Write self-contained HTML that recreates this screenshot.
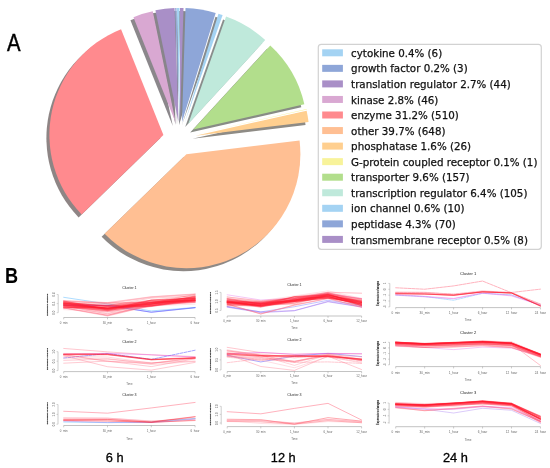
<!DOCTYPE html>
<html><head><meta charset="utf-8"><title>Figure</title>
<style>
html,body{margin:0;padding:0;background:#fff;}
body{width:550px;height:468px;overflow:hidden;position:relative;}
svg{position:absolute;left:0;top:0;}
.lbl{position:absolute;font-family:"Liberation Sans",Arial,sans-serif;color:#000;line-height:1;white-space:nowrap;}
</style></head><body>
<svg width="550" height="468" viewBox="0 0 550 468">
<g transform="translate(-3.00 3.00)">
<path d="M179.50 121.90L179.50 7.90A114.00 114.00 0 0 0 176.87 7.93Z" fill="#878b8d"/>
<path d="M179.10 121.90L176.47 7.93A114.00 114.00 0 0 0 175.16 7.97Z" fill="#85878b"/>
<path d="M178.50 122.00L174.56 8.07A114.00 114.00 0 0 0 155.43 10.36Z" fill="#88858a"/>
<path d="M175.80 123.00L152.73 11.36A114.00 114.00 0 0 0 133.44 17.16Z" fill="#8b878b"/>
<path d="M163.40 135.00L121.04 29.16A114.00 114.00 0 0 0 81.64 214.44Z" fill="#8e8585"/>
<path d="M186.40 154.20L104.64 233.64A114.00 114.00 0 0 0 299.56 140.43Z" fill="#8e8986"/>
<path d="M195.40 135.70L308.56 121.93A114.00 114.00 0 0 0 306.62 110.70Z" fill="#8e8b85"/>
<path d="M195.60 134.40L306.82 109.40A114.00 114.00 0 0 0 306.73 108.97Z" fill="#8e8d86"/>
<path d="M193.20 129.60L304.33 104.17A114.00 114.00 0 0 0 270.25 45.58Z" fill="#888c85"/>
<path d="M188.20 124.10L265.25 40.08A114.00 114.00 0 0 0 226.04 16.56Z" fill="#898d8c"/>
<path d="M184.80 122.60L222.64 15.06A114.00 114.00 0 0 0 218.48 13.69Z" fill="#878b8d"/>
<path d="M182.00 121.90L215.68 12.99A114.00 114.00 0 0 0 185.51 7.95Z" fill="#85878b"/>
<path d="M180.00 121.90L183.51 7.95A114.00 114.00 0 0 0 180.00 7.90Z" fill="#88858a"/>
</g>
<path d="M179.50 121.90L179.50 7.90A114.00 114.00 0 0 0 176.87 7.93Z" fill="#a4d3f3"/>
<path d="M179.10 121.90L176.47 7.93A114.00 114.00 0 0 0 175.16 7.97Z" fill="#8ea6d8"/>
<path d="M178.50 122.00L174.56 8.07A114.00 114.00 0 0 0 155.43 10.36Z" fill="#a98fc7"/>
<path d="M175.80 123.00L152.73 11.36A114.00 114.00 0 0 0 133.44 17.16Z" fill="#d9a8d2"/>
<path d="M163.40 135.00L121.04 29.16A114.00 114.00 0 0 0 81.64 214.44Z" fill="#ff8a8e"/>
<path d="M186.40 154.20L104.64 233.64A114.00 114.00 0 0 0 299.56 140.43Z" fill="#ffbf93"/>
<path d="M195.40 135.70L308.56 121.93A114.00 114.00 0 0 0 306.62 110.70Z" fill="#ffcf8f"/>
<path d="M195.60 134.40L306.82 109.40A114.00 114.00 0 0 0 306.73 108.97Z" fill="#f8f39a"/>
<path d="M193.20 129.60L304.33 104.17A114.00 114.00 0 0 0 270.25 45.58Z" fill="#b2de8c"/>
<path d="M188.20 124.10L265.25 40.08A114.00 114.00 0 0 0 226.04 16.56Z" fill="#bfe9db"/>
<path d="M184.80 122.60L222.64 15.06A114.00 114.00 0 0 0 218.48 13.69Z" fill="#a4d3f3"/>
<path d="M182.00 121.90L215.68 12.99A114.00 114.00 0 0 0 185.51 7.95Z" fill="#8ea6d8"/>
<path d="M180.00 121.90L183.51 7.95A114.00 114.00 0 0 0 180.00 7.90Z" fill="#a98fc7"/>
<rect x="318.3" y="44.3" width="223" height="205" rx="3" ry="3" fill="#fff" stroke="#d2d2d2" stroke-width="1.2"/>
<rect x="322.2" y="49.30" width="20.7" height="7" fill="#a4d3f3"/>
<rect x="322.2" y="64.85" width="20.7" height="7" fill="#8ea6d8"/>
<rect x="322.2" y="80.40" width="20.7" height="7" fill="#a98fc7"/>
<rect x="322.2" y="95.95" width="20.7" height="7" fill="#d9a8d2"/>
<rect x="322.2" y="111.50" width="20.7" height="7" fill="#ff8a8e"/>
<rect x="322.2" y="127.05" width="20.7" height="7" fill="#ffbf93"/>
<rect x="322.2" y="142.60" width="20.7" height="7" fill="#ffcf8f"/>
<rect x="322.2" y="158.15" width="20.7" height="7" fill="#f8f39a"/>
<rect x="322.2" y="173.70" width="20.7" height="7" fill="#b2de8c"/>
<rect x="322.2" y="189.25" width="20.7" height="7" fill="#bfe9db"/>
<rect x="322.2" y="204.80" width="20.7" height="7" fill="#a4d3f3"/>
<rect x="322.2" y="220.35" width="20.7" height="7" fill="#8ea6d8"/>
<rect x="322.2" y="235.90" width="20.7" height="7" fill="#a98fc7"/><g font-family="DejaVu Sans, sans-serif" font-size="10.3" fill="#111" stroke="#111" stroke-width="0.25"><text x="351.1" y="56.90">cytokine 0.4% (6)</text>
<text x="351.1" y="72.45">growth factor 0.2% (3)</text>
<text x="351.1" y="88.00">translation regulator 2.7% (44)</text>
<text x="351.1" y="103.55">kinase 2.8% (46)</text>
<text x="351.1" y="119.10">enzyme 31.2% (510)</text>
<text x="351.1" y="134.65">other 39.7% (648)</text>
<text x="351.1" y="150.20">phosphatase 1.6% (26)</text>
<text x="351.1" y="165.75">G-protein coupled receptor 0.1% (1)</text>
<text x="351.1" y="181.30">transporter 9.6% (157)</text>
<text x="351.1" y="196.85">transcription regulator 6.4% (105)</text>
<text x="351.1" y="212.40">ion channel 0.6% (10)</text>
<text x="351.1" y="227.95">peptidase 4.3% (70)</text>
<text x="351.1" y="243.50">transmembrane receptor 0.5% (8)</text></g>
<g fill="none" stroke-linejoin="round" stroke-linecap="round"><polyline points="63.7,297.32 107.5,303.93 151.3,310.92 195.1,307.44" stroke="#7cc8ff" stroke-opacity="0.9" stroke-width="0.7"/>
<polyline points="63.7,305.16 107.5,305.52 151.3,312.14 195.1,307.59" stroke="#5b5bff" stroke-opacity="0.8" stroke-width="0.6"/>
<polyline points="63.7,305.16 107.5,305.29 151.3,312.29 195.1,307.82" stroke="#5b5bff" stroke-opacity="0.8" stroke-width="0.6"/>
<polyline points="63.7,300.7 107.5,302.68 151.3,296.95 195.1,294.09" stroke="#ff9aa8" stroke-opacity="0.6" stroke-width="0.6"/>
<polyline points="63.7,301.13 107.5,303.31 151.3,296.94 195.1,294.25" stroke="#ff9aa8" stroke-opacity="0.6" stroke-width="0.6"/>
<polyline points="63.7,300.98 107.5,303.74 151.3,297.37 195.1,294.57" stroke="#ff9aa8" stroke-opacity="0.6" stroke-width="0.6"/>
<polyline points="63.7,300.47 107.5,302.59 151.3,296.67 195.1,293.9" stroke="#ff9aa8" stroke-opacity="0.6" stroke-width="0.6"/>
<polyline points="63.7,307.98 107.5,315.31 151.3,304.95 195.1,302.51" stroke="#ff6b80" stroke-opacity="0.6" stroke-width="0.6"/>
<polyline points="63.7,307.69 107.5,315.25 151.3,304.14 195.1,301.63" stroke="#ff6b80" stroke-opacity="0.6" stroke-width="0.6"/>
<polyline points="63.7,307.98 107.5,316.02 151.3,305.59 195.1,302.37" stroke="#ff6b80" stroke-opacity="0.6" stroke-width="0.6"/>
<polyline points="63.7,305.84 107.5,307.2 151.3,306.25 195.1,301.61" stroke="#ff6b80" stroke-opacity="0.33" stroke-width="0.6"/>
<polyline points="63.7,309.63 107.5,311.72 151.3,305.38 195.1,298.37" stroke="#ff6b80" stroke-opacity="0.33" stroke-width="0.6"/>
<polyline points="63.7,304.72 107.5,309.58 151.3,302.82 195.1,298.72" stroke="#ff6b80" stroke-opacity="0.33" stroke-width="0.6"/>
<polyline points="63.7,307.88 107.5,304.94 151.3,301.67 195.1,300.02" stroke="#ff6b80" stroke-opacity="0.33" stroke-width="0.6"/>
<polyline points="63.7,308.18 107.5,307.13 151.3,301.31 195.1,301.78" stroke="#ff6b80" stroke-opacity="0.33" stroke-width="0.6"/>
<polyline points="63.7,302.28 107.5,311.48 151.3,305.82 195.1,299.71" stroke="#ff6b80" stroke-opacity="0.33" stroke-width="0.6"/>
<polyline points="63.7,306.71 107.5,313.81 151.3,305.72 195.1,301.14" stroke="#ff6b80" stroke-opacity="0.33" stroke-width="0.6"/>
<polyline points="63.7,302.51 107.5,313.4 151.3,306.5 195.1,301.39" stroke="#ff6b80" stroke-opacity="0.33" stroke-width="0.6"/>
<polyline points="63.7,302.19 107.5,309.99 151.3,300.04 195.1,298.13" stroke="#ff6b80" stroke-opacity="0.33" stroke-width="0.6"/>
<polyline points="63.7,303.54 107.5,314.59 151.3,306.16 195.1,300.52" stroke="#ff6b80" stroke-opacity="0.33" stroke-width="0.6"/>
<polyline points="63.7,307.27 107.5,310.58 151.3,306.66 195.1,299.05" stroke="#ff6b80" stroke-opacity="0.33" stroke-width="0.6"/>
<polyline points="63.7,307.44 107.5,309.66 151.3,302.72 195.1,301.4" stroke="#ff6b80" stroke-opacity="0.33" stroke-width="0.6"/>
<polyline points="63.7,305.91 107.5,308.32 151.3,305.33 195.1,300.87" stroke="#ff6b80" stroke-opacity="0.33" stroke-width="0.6"/>
<polyline points="63.7,308.36 107.5,307.41 151.3,306.4 195.1,297.46" stroke="#ff6b80" stroke-opacity="0.33" stroke-width="0.6"/>
<polyline points="63.7,306.16 107.5,311.77 151.3,305.38 195.1,300.01" stroke="#ff6b80" stroke-opacity="0.33" stroke-width="0.6"/>
<polyline points="63.7,305.98 107.5,311.43 151.3,304.31 195.1,300.62" stroke="#ff6b80" stroke-opacity="0.33" stroke-width="0.6"/>
<polyline points="63.7,306.05 107.5,312.26 151.3,305.86 195.1,304.11" stroke="#ff6b80" stroke-opacity="0.33" stroke-width="0.6"/>
<polyline points="63.7,304.85 107.5,309.48 151.3,304.71 195.1,301.93" stroke="#ff6b80" stroke-opacity="0.33" stroke-width="0.6"/>
<polyline points="63.7,306.04 107.5,313.79 151.3,299.95 195.1,297.69" stroke="#ff6b80" stroke-opacity="0.33" stroke-width="0.6"/>
<polyline points="63.7,306.63 107.5,310.77 151.3,303.95 195.1,301.38" stroke="#ff6b80" stroke-opacity="0.33" stroke-width="0.6"/>
<polyline points="63.7,304.6 107.5,315.71 151.3,305.3 195.1,299.21" stroke="#ff6b80" stroke-opacity="0.33" stroke-width="0.6"/>
<polyline points="63.7,304.9 107.5,309.76 151.3,299.85 195.1,299.04" stroke="#ff6b80" stroke-opacity="0.33" stroke-width="0.6"/>
<polyline points="63.7,303.06 107.5,308.31 151.3,305.24 195.1,300.89" stroke="#ff1a2e" stroke-opacity="0.25" stroke-width="0.8"/>
<polyline points="63.7,302.66 107.5,308.27 151.3,303.69 195.1,300.93" stroke="#ff1a2e" stroke-opacity="0.25" stroke-width="0.8"/>
<polyline points="63.7,300.87 107.5,310.11 151.3,301.71 195.1,300.7" stroke="#ff1a2e" stroke-opacity="0.25" stroke-width="0.8"/>
<polyline points="63.7,303.06 107.5,308.18 151.3,301.58 195.1,297.88" stroke="#ff1a2e" stroke-opacity="0.25" stroke-width="0.8"/>
<polyline points="63.7,304.85 107.5,308.11 151.3,305.93 195.1,301.01" stroke="#ff1a2e" stroke-opacity="0.25" stroke-width="0.8"/>
<polyline points="63.7,307.87 107.5,305.65 151.3,304.13 195.1,298.17" stroke="#ff1a2e" stroke-opacity="0.25" stroke-width="0.8"/>
<polyline points="63.7,305.16 107.5,308.04 151.3,304.06 195.1,296.62" stroke="#ff1a2e" stroke-opacity="0.25" stroke-width="0.8"/>
<polyline points="63.7,303.7 107.5,304.94 151.3,300.25 195.1,295.39" stroke="#ff1a2e" stroke-opacity="0.25" stroke-width="0.8"/>
<polyline points="63.7,306.14 107.5,310.82 151.3,302.62 195.1,299.82" stroke="#ff1a2e" stroke-opacity="0.25" stroke-width="0.8"/>
<polyline points="63.7,304.23 107.5,309.06 151.3,300.75 195.1,300.21" stroke="#ff1a2e" stroke-opacity="0.25" stroke-width="0.8"/>
<polyline points="63.7,304.53 107.5,305.45 151.3,305.9 195.1,299.45" stroke="#ff1a2e" stroke-opacity="0.25" stroke-width="0.8"/>
<polyline points="63.7,304.11 107.5,307.73 151.3,304.75 195.1,296.79" stroke="#ff1a2e" stroke-opacity="0.25" stroke-width="0.8"/>
<polyline points="63.7,307.14 107.5,310.69 151.3,303.64 195.1,298.6" stroke="#ff1a2e" stroke-opacity="0.25" stroke-width="0.8"/>
<polyline points="63.7,304.99 107.5,308.61 151.3,305.95 195.1,299.23" stroke="#ff1a2e" stroke-opacity="0.25" stroke-width="0.8"/>
<polyline points="63.7,301.57 107.5,302.98 151.3,302.38 195.1,297.43" stroke="#ff1a2e" stroke-opacity="0.25" stroke-width="0.8"/>
<polyline points="63.7,303.49 107.5,308.35 151.3,302.63 195.1,300.29" stroke="#ff1a2e" stroke-opacity="0.25" stroke-width="0.8"/>
<polyline points="63.7,305.51 107.5,309.78 151.3,305.36 195.1,297.75" stroke="#ff1a2e" stroke-opacity="0.25" stroke-width="0.8"/>
<polyline points="63.7,301.9 107.5,306.69 151.3,300.77 195.1,301.11" stroke="#ff1a2e" stroke-opacity="0.25" stroke-width="0.8"/>
<polyline points="63.7,302.99 107.5,306.32 151.3,301.97 195.1,296.92" stroke="#ff1a2e" stroke-opacity="0.25" stroke-width="0.8"/>
<polyline points="63.7,306.87 107.5,307.85 151.3,303.98 195.1,300.48" stroke="#ff1a2e" stroke-opacity="0.25" stroke-width="0.8"/>
<polyline points="63.7,301.96 107.5,306.61 151.3,304.45 195.1,296.18" stroke="#ff1a2e" stroke-opacity="0.25" stroke-width="0.8"/>
<polyline points="63.7,305.02 107.5,308.3 151.3,302.53 195.1,299.52" stroke="#ff1a2e" stroke-opacity="0.25" stroke-width="0.8"/>
<polyline points="63.7,302.37 107.5,305.4 151.3,302.18 195.1,300.31" stroke="#ff1a2e" stroke-opacity="0.25" stroke-width="0.8"/>
<polyline points="63.7,302.2 107.5,305.99 151.3,300.25 195.1,298.17" stroke="#ff1a2e" stroke-opacity="0.25" stroke-width="0.8"/>
<polyline points="63.7,303.59 107.5,303.12 151.3,302.54 195.1,296.89" stroke="#ff1a2e" stroke-opacity="0.25" stroke-width="0.8"/>
<polyline points="63.7,303.52 107.5,305.62 151.3,298.1 195.1,295.93" stroke="#ff1a2e" stroke-opacity="0.25" stroke-width="0.8"/>
<polyline points="63.7,303.55 107.5,309 151.3,304.35 195.1,300.03" stroke="#ff1a2e" stroke-opacity="0.25" stroke-width="0.8"/>
<polyline points="63.7,306.26 107.5,308.85 151.3,303.94 195.1,295.95" stroke="#ff1a2e" stroke-opacity="0.25" stroke-width="0.8"/>
<polyline points="63.7,306.68 107.5,307.88 151.3,303.02 195.1,302.42" stroke="#ff1a2e" stroke-opacity="0.25" stroke-width="0.8"/>
<polyline points="63.7,303.29 107.5,309.81 151.3,300.2 195.1,298.42" stroke="#ff1a2e" stroke-opacity="0.25" stroke-width="0.8"/>
<polyline points="63.7,305.34 107.5,309.96 151.3,305.87 195.1,298.96" stroke="#ff1a2e" stroke-opacity="0.25" stroke-width="0.8"/>
<polyline points="63.7,304.37 107.5,308.76 151.3,302.88 195.1,298.44" stroke="#ff1a2e" stroke-opacity="0.25" stroke-width="0.8"/>
<polyline points="63.7,302.65 107.5,308.12 151.3,302.33 195.1,296.71" stroke="#ff1a2e" stroke-opacity="0.25" stroke-width="0.8"/>
<polyline points="63.7,307.31 107.5,308.63 151.3,303.28 195.1,294.25" stroke="#ff1a2e" stroke-opacity="0.25" stroke-width="0.8"/>
<polyline points="63.7,305.22 107.5,310.62 151.3,304.14 195.1,299.2" stroke="#ff1a2e" stroke-opacity="0.25" stroke-width="0.8"/>
<polyline points="63.7,301.51 107.5,309.57 151.3,303.91 195.1,298.17" stroke="#ff1a2e" stroke-opacity="0.25" stroke-width="0.8"/>
<polyline points="63.7,307.77 107.5,306.57 151.3,303.07 195.1,300.3" stroke="#ff1a2e" stroke-opacity="0.25" stroke-width="0.8"/>
<polyline points="63.7,303.55 107.5,306.29 151.3,306.32 195.1,300.5" stroke="#ff1a2e" stroke-opacity="0.25" stroke-width="0.8"/>
<polyline points="63.7,301.03 107.5,309.18 151.3,303.52 195.1,300.56" stroke="#ff1a2e" stroke-opacity="0.25" stroke-width="0.8"/>
<polyline points="63.7,303.35 107.5,308.64 151.3,300.42 195.1,298.33" stroke="#ff1a2e" stroke-opacity="0.25" stroke-width="0.8"/>
<polyline points="63.7,304.73 107.5,306.46 151.3,302.77 195.1,299.44" stroke="#ff1a2e" stroke-opacity="0.25" stroke-width="0.8"/>
<polyline points="63.7,305.26 107.5,308.22 151.3,302.82 195.1,300.28" stroke="#ff1a2e" stroke-opacity="0.25" stroke-width="0.8"/>
<polyline points="63.7,348.44 107.5,351.86 151.3,354.81 195.1,356.6" stroke="#ff9aa8" stroke-opacity="0.8" stroke-width="0.7"/>
<polyline points="63.7,358.02 107.5,353.53 151.3,359.41 195.1,350.22" stroke="#5b5bff" stroke-opacity="0.8" stroke-width="0.7" stroke-dasharray="3 1.2"/>
<polyline points="63.7,354.13 107.5,353.29 151.3,354.84 195.1,357.09" stroke="#e25ee6" stroke-opacity="0.7" stroke-width="0.7"/>
<polyline points="63.7,360.3 107.5,359.23 151.3,362.71 195.1,361.11" stroke="#ff6b80" stroke-opacity="0.6" stroke-width="0.6"/>
<polyline points="63.7,363.19 107.5,361.08 151.3,366.59 195.1,358.76" stroke="#ff6b80" stroke-opacity="0.6" stroke-width="0.6"/>
<polyline points="63.7,355.66 107.5,366.72 151.3,370.11 195.1,362.37" stroke="#ff6b80" stroke-opacity="0.6" stroke-width="0.6"/>
<polyline points="63.7,354.7 107.5,361.53 151.3,363.68 195.1,357.93" stroke="#ff6b80" stroke-opacity="0.5" stroke-width="0.6"/>
<polyline points="63.7,354.6 107.5,361.09 151.3,363.31 195.1,357.52" stroke="#ff6b80" stroke-opacity="0.5" stroke-width="0.6"/>
<polyline points="63.7,356.25 107.5,357.06 151.3,363.19 195.1,358.74" stroke="#ff6b80" stroke-opacity="0.45" stroke-width="0.6"/>
<polyline points="63.7,358.02 107.5,358.44 151.3,364.56 195.1,361.57" stroke="#ff6b80" stroke-opacity="0.45" stroke-width="0.6"/>
<polyline points="63.7,354.41 107.5,354.35 151.3,359.24 195.1,357.46" stroke="#ff1a2e" stroke-opacity="0.45" stroke-width="0.7"/>
<polyline points="63.7,354.51 107.5,354.65 151.3,359.74 195.1,358.1" stroke="#ff1a2e" stroke-opacity="0.45" stroke-width="0.7"/>
<polyline points="63.7,354.88 107.5,354.68 151.3,359.83 195.1,358.33" stroke="#ff1a2e" stroke-opacity="0.45" stroke-width="0.7"/>
<polyline points="63.7,354.29 107.5,354.33 151.3,359.73 195.1,357.86" stroke="#ff1a2e" stroke-opacity="0.45" stroke-width="0.7"/>
<polyline points="63.7,353.45 107.5,353.77 151.3,359.37 195.1,357.97" stroke="#ff1a2e" stroke-opacity="0.45" stroke-width="0.7"/>
<polyline points="63.7,411.27 107.5,413.18 151.3,407.94 195.1,402.43" stroke="#ff6b80" stroke-opacity="0.75" stroke-width="0.7"/>
<polyline points="63.7,418.09 107.5,418.17 151.3,420.98 195.1,418.79" stroke="#ff9aa8" stroke-opacity="0.5" stroke-width="0.9"/>
<polyline points="63.7,417.94 107.5,418.16 151.3,421.24 195.1,418.46" stroke="#ff9aa8" stroke-opacity="0.5" stroke-width="0.9"/>
<polyline points="63.7,422 107.5,422.63 151.3,422.07 195.1,418.48" stroke="#7cc8ff" stroke-opacity="0.8" stroke-width="0.8"/>
<polyline points="63.7,421.08 107.5,422.59 151.3,422.55 195.1,419.12" stroke="#9a6cf0" stroke-opacity="0.6" stroke-width="0.6"/>
<polyline points="63.7,419.4 107.5,419.32 151.3,421.91 195.1,416.57" stroke="#ff1a2e" stroke-opacity="0.55" stroke-width="0.7"/>
<polyline points="63.7,419.88 107.5,419.55 151.3,422.2 195.1,416.9" stroke="#ff1a2e" stroke-opacity="0.55" stroke-width="0.7"/>
<polyline points="63.7,420.4 107.5,420.94 151.3,422.23 195.1,420.56" stroke="#ff1a2e" stroke-opacity="0.45" stroke-width="0.7"/>
<polyline points="63.7,420.57 107.5,420.98 151.3,422.46 195.1,420.15" stroke="#ff1a2e" stroke-opacity="0.45" stroke-width="0.7"/>
<polyline points="227.2,294.77 260.8,300.02 294.4,298.3 328,293.79 361.6,298.54" stroke="#e25ee6" stroke-opacity="0.6" stroke-width="0.6"/>
<polyline points="227.2,296.92 260.8,301.01 294.4,298.03 328,292.25 361.6,293.25" stroke="#ff9aa8" stroke-opacity="0.6" stroke-width="0.6"/>
<polyline points="227.2,296.97 260.8,301.06 294.4,298.01 328,292.19 361.6,293.21" stroke="#ff9aa8" stroke-opacity="0.6" stroke-width="0.6"/>
<polyline points="227.2,306.89 260.8,311.93 294.4,310.59 328,301.33 361.6,306.83" stroke="#9a6cf0" stroke-opacity="0.7" stroke-width="0.6"/>
<polyline points="227.2,307.16 260.8,312.7 294.4,310.77 328,301.8 361.6,307.05" stroke="#9a6cf0" stroke-opacity="0.7" stroke-width="0.6"/>
<polyline points="227.2,306.42 260.8,311.91 294.4,306.73 328,300.27 361.6,305.48" stroke="#5b5bff" stroke-opacity="0.6" stroke-width="0.6"/>
<polyline points="227.2,304.42 260.8,313.9 294.4,305.34 328,298.64 361.6,306.98" stroke="#ff6b80" stroke-opacity="0.5" stroke-width="0.6"/>
<polyline points="227.2,303.92 260.8,314.07 294.4,304.94 328,298.64 361.6,307.59" stroke="#ff6b80" stroke-opacity="0.5" stroke-width="0.6"/>
<polyline points="227.2,303.92 260.8,313.8 294.4,304.93 328,298.13 361.6,306.88" stroke="#ff6b80" stroke-opacity="0.5" stroke-width="0.6"/>
<polyline points="227.2,301.27 260.8,303.08 294.4,301.1 328,296.03 361.6,300.71" stroke="#ff6b80" stroke-opacity="0.3" stroke-width="0.6"/>
<polyline points="227.2,299.98 260.8,304.45 294.4,298.76 328,294.86 361.6,299.94" stroke="#ff6b80" stroke-opacity="0.3" stroke-width="0.6"/>
<polyline points="227.2,299.74 260.8,303.23 294.4,298.16 328,292.63 361.6,299.82" stroke="#ff6b80" stroke-opacity="0.3" stroke-width="0.6"/>
<polyline points="227.2,300.19 260.8,304.16 294.4,299.85 328,293.52 361.6,301.77" stroke="#ff6b80" stroke-opacity="0.3" stroke-width="0.6"/>
<polyline points="227.2,300.63 260.8,302.49 294.4,298.97 328,292.6 361.6,301.43" stroke="#ff6b80" stroke-opacity="0.3" stroke-width="0.6"/>
<polyline points="227.2,300.67 260.8,303.43 294.4,299.34 328,296.58 361.6,301.27" stroke="#ff6b80" stroke-opacity="0.3" stroke-width="0.6"/>
<polyline points="227.2,299.68 260.8,302.83 294.4,298.06 328,293.95 361.6,298.78" stroke="#ff6b80" stroke-opacity="0.3" stroke-width="0.6"/>
<polyline points="227.2,300.16 260.8,303.29 294.4,298.73 328,293.19 361.6,300.04" stroke="#ff6b80" stroke-opacity="0.3" stroke-width="0.6"/>
<polyline points="227.2,300.67 260.8,303.03 294.4,298.33 328,293.04 361.6,298.86" stroke="#ff6b80" stroke-opacity="0.3" stroke-width="0.6"/>
<polyline points="227.2,298.59 260.8,302.11 294.4,298.29 328,293.33 361.6,300.55" stroke="#ff6b80" stroke-opacity="0.3" stroke-width="0.6"/>
<polyline points="227.2,299.16 260.8,304.39 294.4,296.66 328,292.74 361.6,299.29" stroke="#ff6b80" stroke-opacity="0.3" stroke-width="0.6"/>
<polyline points="227.2,300.51 260.8,302.99 294.4,299.48 328,294.23 361.6,300.8" stroke="#ff6b80" stroke-opacity="0.3" stroke-width="0.6"/>
<polyline points="227.2,297.02 260.8,300.73 294.4,295.9 328,290.89 361.6,298.23" stroke="#ff6b80" stroke-opacity="0.3" stroke-width="0.6"/>
<polyline points="227.2,299.73 260.8,302.82 294.4,298.47 328,293.63 361.6,299.14" stroke="#ff6b80" stroke-opacity="0.3" stroke-width="0.6"/>
<polyline points="227.2,298.29 260.8,301.67 294.4,296.89 328,292.23 361.6,298.91" stroke="#ff6b80" stroke-opacity="0.3" stroke-width="0.6"/>
<polyline points="227.2,301.85 260.8,306.68 294.4,299.06 328,295.11 361.6,302.07" stroke="#ff1a2e" stroke-opacity="0.25" stroke-width="0.8"/>
<polyline points="227.2,303.31 260.8,307.18 294.4,300.81 328,296.82 361.6,304.23" stroke="#ff1a2e" stroke-opacity="0.25" stroke-width="0.8"/>
<polyline points="227.2,302.32 260.8,304.51 294.4,296.56 328,295.28 361.6,301.37" stroke="#ff1a2e" stroke-opacity="0.25" stroke-width="0.8"/>
<polyline points="227.2,302.51 260.8,302.72 294.4,300.64 328,298.19 361.6,302.5" stroke="#ff1a2e" stroke-opacity="0.25" stroke-width="0.8"/>
<polyline points="227.2,298.74 260.8,301.95 294.4,300.28 328,297.31 361.6,302.82" stroke="#ff1a2e" stroke-opacity="0.25" stroke-width="0.8"/>
<polyline points="227.2,305.14 260.8,304.02 294.4,299.79 328,296.59 361.6,304.02" stroke="#ff1a2e" stroke-opacity="0.25" stroke-width="0.8"/>
<polyline points="227.2,299.03 260.8,304.22 294.4,300.15 328,292.83 361.6,301.88" stroke="#ff1a2e" stroke-opacity="0.25" stroke-width="0.8"/>
<polyline points="227.2,301.85 260.8,303.99 294.4,300.03 328,294.63 361.6,304.14" stroke="#ff1a2e" stroke-opacity="0.25" stroke-width="0.8"/>
<polyline points="227.2,302.17 260.8,306.98 294.4,300.59 328,296.83 361.6,305.24" stroke="#ff1a2e" stroke-opacity="0.25" stroke-width="0.8"/>
<polyline points="227.2,302.25 260.8,305.71 294.4,302.11 328,294.58 361.6,304.24" stroke="#ff1a2e" stroke-opacity="0.25" stroke-width="0.8"/>
<polyline points="227.2,301.61 260.8,302.37 294.4,297.1 328,295.11 361.6,302.85" stroke="#ff1a2e" stroke-opacity="0.25" stroke-width="0.8"/>
<polyline points="227.2,302.49 260.8,303.75 294.4,299.25 328,295.87 361.6,300.21" stroke="#ff1a2e" stroke-opacity="0.25" stroke-width="0.8"/>
<polyline points="227.2,301.02 260.8,305.32 294.4,299.81 328,295.52 361.6,301.47" stroke="#ff1a2e" stroke-opacity="0.25" stroke-width="0.8"/>
<polyline points="227.2,304.33 260.8,303.82 294.4,304.38 328,294.88 361.6,303.27" stroke="#ff1a2e" stroke-opacity="0.25" stroke-width="0.8"/>
<polyline points="227.2,303.27 260.8,302.89 294.4,297.6 328,296.65 361.6,304.33" stroke="#ff1a2e" stroke-opacity="0.25" stroke-width="0.8"/>
<polyline points="227.2,306.03 260.8,305.41 294.4,301.48 328,297.49 361.6,304.05" stroke="#ff1a2e" stroke-opacity="0.25" stroke-width="0.8"/>
<polyline points="227.2,301.09 260.8,305.38 294.4,296.79 328,298.15 361.6,303.78" stroke="#ff1a2e" stroke-opacity="0.25" stroke-width="0.8"/>
<polyline points="227.2,305.56 260.8,305.33 294.4,300.96 328,295.6 361.6,302.49" stroke="#ff1a2e" stroke-opacity="0.25" stroke-width="0.8"/>
<polyline points="227.2,302.05 260.8,304.15 294.4,300.19 328,294.83 361.6,303.86" stroke="#ff1a2e" stroke-opacity="0.25" stroke-width="0.8"/>
<polyline points="227.2,301.79 260.8,305.99 294.4,300.77 328,294.27 361.6,305.57" stroke="#ff1a2e" stroke-opacity="0.25" stroke-width="0.8"/>
<polyline points="227.2,300.54 260.8,306.59 294.4,301.49 328,293.64 361.6,305.78" stroke="#ff1a2e" stroke-opacity="0.25" stroke-width="0.8"/>
<polyline points="227.2,303.2 260.8,305.16 294.4,300.64 328,293.55 361.6,304.72" stroke="#ff1a2e" stroke-opacity="0.25" stroke-width="0.8"/>
<polyline points="227.2,301.2 260.8,305.15 294.4,300.74 328,296.63 361.6,302.47" stroke="#ff1a2e" stroke-opacity="0.25" stroke-width="0.8"/>
<polyline points="227.2,298.37 260.8,303.94 294.4,301.58 328,297.57 361.6,302.43" stroke="#ff1a2e" stroke-opacity="0.25" stroke-width="0.8"/>
<polyline points="227.2,303.87 260.8,304.02 294.4,301.6 328,298.01 361.6,302.96" stroke="#ff1a2e" stroke-opacity="0.25" stroke-width="0.8"/>
<polyline points="227.2,301.53 260.8,305.9 294.4,301.47 328,296.76 361.6,305.68" stroke="#ff1a2e" stroke-opacity="0.25" stroke-width="0.8"/>
<polyline points="227.2,302.53 260.8,305.66 294.4,303.27 328,295.95 361.6,305.67" stroke="#ff1a2e" stroke-opacity="0.25" stroke-width="0.8"/>
<polyline points="227.2,301.65 260.8,305.85 294.4,298.74 328,297.2 361.6,301.15" stroke="#ff1a2e" stroke-opacity="0.25" stroke-width="0.8"/>
<polyline points="227.2,300.21 260.8,303.44 294.4,301.32 328,295.16 361.6,301.85" stroke="#ff1a2e" stroke-opacity="0.25" stroke-width="0.8"/>
<polyline points="227.2,304.4 260.8,305.05 294.4,301.58 328,297.89 361.6,303.84" stroke="#ff1a2e" stroke-opacity="0.25" stroke-width="0.8"/>
<polyline points="227.2,304.29 260.8,306.87 294.4,296.6 328,294.51 361.6,302.59" stroke="#ff1a2e" stroke-opacity="0.25" stroke-width="0.8"/>
<polyline points="227.2,303.38 260.8,304.97 294.4,299.8 328,296.53 361.6,305.32" stroke="#ff1a2e" stroke-opacity="0.25" stroke-width="0.8"/>
<polyline points="227.2,299.19 260.8,303.69 294.4,296.83 328,294.33 361.6,301.47" stroke="#ff1a2e" stroke-opacity="0.25" stroke-width="0.8"/>
<polyline points="227.2,300.91 260.8,303.64 294.4,300.37 328,295.89 361.6,302.37" stroke="#ff1a2e" stroke-opacity="0.25" stroke-width="0.8"/>
<polyline points="227.2,302.73 260.8,306.38 294.4,303.16 328,294.44 361.6,302.38" stroke="#ff1a2e" stroke-opacity="0.25" stroke-width="0.8"/>
<polyline points="227.2,302.44 260.8,301.52 294.4,298.55 328,294.38 361.6,298.97" stroke="#ff1a2e" stroke-opacity="0.25" stroke-width="0.8"/>
<polyline points="227.2,301.93 260.8,302.24 294.4,301.41 328,297.76 361.6,300.58" stroke="#ff1a2e" stroke-opacity="0.25" stroke-width="0.8"/>
<polyline points="227.2,302.56 260.8,305.96 294.4,301.91 328,298.2 361.6,303.32" stroke="#ff1a2e" stroke-opacity="0.25" stroke-width="0.8"/>
<polyline points="227.2,301.69 260.8,306.39 294.4,300.09 328,296.14 361.6,306.29" stroke="#ff1a2e" stroke-opacity="0.25" stroke-width="0.8"/>
<polyline points="227.2,301.72 260.8,303.25 294.4,299.78 328,296.25 361.6,304.76" stroke="#ff1a2e" stroke-opacity="0.25" stroke-width="0.8"/>
<polyline points="227.2,302.73 260.8,304.88 294.4,302.96 328,295.36 361.6,302.52" stroke="#ff1a2e" stroke-opacity="0.25" stroke-width="0.8"/>
<polyline points="227.2,302.41 260.8,304.9 294.4,300.45 328,295.93 361.6,304.65" stroke="#ff1a2e" stroke-opacity="0.25" stroke-width="0.8"/>
<polyline points="227.2,347.35 260.8,352.58 294.4,354.36 328,353.46 361.6,353.9" stroke="#ff9aa8" stroke-opacity="0.8" stroke-width="0.7"/>
<polyline points="227.2,355.34 260.8,361.93 294.4,356.07 328,353.41 361.6,356.6" stroke="#5b5bff" stroke-opacity="0.75" stroke-width="0.7"/>
<polyline points="227.2,354.08 260.8,352.36 294.4,354.29 328,353.34 361.6,353.76" stroke="#e25ee6" stroke-opacity="0.75" stroke-width="0.7"/>
<polyline points="227.2,362.69 260.8,358.65 294.4,362.36 328,361.89 361.6,363.42" stroke="#ff6b80" stroke-opacity="0.6" stroke-width="0.6" stroke-dasharray="2.5 1"/>
<polyline points="227.2,354.4 260.8,366.49 294.4,370.39 328,356.18 361.6,369.53" stroke="#ff6b80" stroke-opacity="0.6" stroke-width="0.6"/>
<polyline points="227.2,349.83 260.8,355.09 294.4,361.72 328,353.46 361.6,359.38" stroke="#ff6b80" stroke-opacity="0.5" stroke-width="0.6"/>
<polyline points="227.2,350.6 260.8,355.23 294.4,362.53 328,354.54 361.6,360.58" stroke="#ff6b80" stroke-opacity="0.5" stroke-width="0.6"/>
<polyline points="227.2,356.11 260.8,359.4 294.4,356.36 328,356.4 361.6,360.6" stroke="#ff6b80" stroke-opacity="0.5" stroke-width="0.6" stroke-dasharray="2.5 1"/>
<polyline points="227.2,357.18 260.8,360.67 294.4,356.83 328,356.98 361.6,362.07" stroke="#ff6b80" stroke-opacity="0.5" stroke-width="0.6" stroke-dasharray="2.5 1"/>
<polyline points="227.2,356.43 260.8,359.19 294.4,361.26 328,355.77 361.6,360.38" stroke="#ff6b80" stroke-opacity="0.45" stroke-width="0.6"/>
<polyline points="227.2,355.78 260.8,357.35 294.4,361.64 328,355.26 361.6,359.85" stroke="#ff6b80" stroke-opacity="0.45" stroke-width="0.6"/>
<polyline points="227.2,356.62 260.8,357.68 294.4,361.09 328,355.4 361.6,360.4" stroke="#ff6b80" stroke-opacity="0.45" stroke-width="0.6"/>
<polyline points="227.2,350.96 260.8,354.3 294.4,357.93 328,354.3 361.6,356.69" stroke="#ff9aa8" stroke-opacity="0.5" stroke-width="0.6"/>
<polyline points="227.2,351.99 260.8,353.75 294.4,357.86 328,354.42 361.6,356.91" stroke="#ff9aa8" stroke-opacity="0.5" stroke-width="0.6"/>
<polyline points="227.2,350.87 260.8,355.63 294.4,365.37 328,354.67 361.6,360.83" stroke="#ff6b80" stroke-opacity="0.5" stroke-width="0.6"/>
<polyline points="227.2,356.27 260.8,360.16 294.4,367.75 328,356.77 361.6,363.04" stroke="#ff9aa8" stroke-opacity="0.55" stroke-width="0.6"/>
<polyline points="227.2,353.36 260.8,355.36 294.4,355.73 328,356.04 361.6,359.15" stroke="#ff1a2e" stroke-opacity="0.45" stroke-width="0.7"/>
<polyline points="227.2,354.22 260.8,356.14 294.4,356.43 328,356.45 361.6,359.53" stroke="#ff1a2e" stroke-opacity="0.45" stroke-width="0.7"/>
<polyline points="227.2,352.96 260.8,355.61 294.4,355.91 328,355.7 361.6,359.11" stroke="#ff1a2e" stroke-opacity="0.45" stroke-width="0.7"/>
<polyline points="227.2,353.79 260.8,356.71 294.4,355.41 328,356.28 361.6,358.86" stroke="#ff1a2e" stroke-opacity="0.45" stroke-width="0.7"/>
<polyline points="227.2,354.92 260.8,355.47 294.4,356.51 328,356.74 361.6,359.57" stroke="#ff1a2e" stroke-opacity="0.45" stroke-width="0.7"/>
<polyline points="227.2,411.69 260.8,413.83 294.4,408.4 328,403.37 361.6,420.02" stroke="#ff6b80" stroke-opacity="0.75" stroke-width="0.7"/>
<polyline points="227.2,419.26 260.8,419.64 294.4,424.15 328,417.65 361.6,421.11" stroke="#ff1a2e" stroke-opacity="0.55" stroke-width="0.7"/>
<polyline points="227.2,421.53 260.8,421.83 294.4,424.13 328,420.61 361.6,422.75" stroke="#ff1a2e" stroke-opacity="0.5" stroke-width="0.7"/>
<polyline points="227.2,420.62 260.8,420.65 294.4,422.99 328,419.44 361.6,422.04" stroke="#ff6b80" stroke-opacity="0.5" stroke-width="0.6"/>
<polyline points="227.2,420.35 260.8,420.62 294.4,423.11 328,419.36 361.6,421.58" stroke="#ff6b80" stroke-opacity="0.5" stroke-width="0.6"/>
<polyline points="227.2,420.55 260.8,423.47 294.4,424.4 328,421.59 361.6,422.59" stroke="#ff9aa8" stroke-opacity="0.5" stroke-width="0.6"/>
<polyline points="395.7,287.77 424.65,289.23 453.6,285.92 482.55,281.04 511.5,292.73 540.45,303.98" stroke="#ff6b80" stroke-opacity="0.75" stroke-width="0.7" stroke-dasharray="3 1"/>
<polyline points="395.7,292.53 424.65,292.5 453.6,294.05 482.55,290.97 511.5,292.48 540.45,289.15" stroke="#ff6b80" stroke-opacity="0.7" stroke-width="0.7" stroke-dasharray="3 1"/>
<polyline points="395.7,295.08 424.65,296.57 453.6,300.28 482.55,293.34 511.5,294.79 540.45,305.18" stroke="#7cc8ff" stroke-opacity="0.8" stroke-width="0.7" stroke-dasharray="2 1"/>
<polyline points="395.7,294.49 424.65,296.3 453.6,298.41 482.55,292.91 511.5,295.31 540.45,304.8" stroke="#e25ee6" stroke-opacity="0.6" stroke-width="0.6"/>
<polyline points="395.7,295.23 424.65,296.84 453.6,298.82 482.55,293.26 511.5,295.93 540.45,305.13" stroke="#e25ee6" stroke-opacity="0.6" stroke-width="0.6"/>
<polyline points="395.7,292.03 424.65,292.23 453.6,294.7 482.55,291.74 511.5,292.5 540.45,304.51" stroke="#ff9aa8" stroke-opacity="0.6" stroke-width="0.8"/>
<polyline points="395.7,292.81 424.65,293.09 453.6,294.6 482.55,291.72 511.5,293.04 540.45,305.14" stroke="#ff9aa8" stroke-opacity="0.6" stroke-width="0.8"/>
<polyline points="395.7,293.29 424.65,293.87 453.6,295.12 482.55,291.79 511.5,293.07 540.45,305.72" stroke="#ff1a2e" stroke-opacity="0.55" stroke-width="0.8"/>
<polyline points="395.7,293.75 424.65,294.09 453.6,295.26 482.55,291.81 511.5,292.87 540.45,306.06" stroke="#ff1a2e" stroke-opacity="0.55" stroke-width="0.8"/>
<polyline points="395.7,293.75 424.65,294.07 453.6,295.43 482.55,292.02 511.5,293.02 540.45,306.16" stroke="#ff1a2e" stroke-opacity="0.55" stroke-width="0.8"/>
<polyline points="395.7,343.82 424.65,344.85 453.6,343.78 482.55,342.8 511.5,343.89 540.45,365.49" stroke="#ff6b80" stroke-opacity="0.7" stroke-width="0.6"/>
<polyline points="395.7,345.65 424.65,347.43 453.6,349.64 482.55,347.12 511.5,348.11 540.45,355.98" stroke="#e25ee6" stroke-opacity="0.6" stroke-width="0.6"/>
<polyline points="395.7,345.62 424.65,347.4 453.6,346.69 482.55,345.49 511.5,347.45 540.45,356.78" stroke="#ff6b80" stroke-opacity="0.45" stroke-width="0.6"/>
<polyline points="395.7,346.26 424.65,347.48 453.6,347.07 482.55,345.83 511.5,347.67 540.45,357.43" stroke="#ff6b80" stroke-opacity="0.45" stroke-width="0.6"/>
<polyline points="395.7,345.72 424.65,347.47 453.6,347.05 482.55,345.77 511.5,347.47 540.45,357.14" stroke="#ff6b80" stroke-opacity="0.45" stroke-width="0.6"/>
<polyline points="395.7,345.85 424.65,347.53 453.6,346.53 482.55,344.88 511.5,347.35 540.45,356.74" stroke="#ff6b80" stroke-opacity="0.45" stroke-width="0.6"/>
<polyline points="395.7,344.02 424.65,345.86 453.6,345.77 482.55,343.32 511.5,344.79 540.45,356.16" stroke="#ff4d60" stroke-opacity="0.3" stroke-width="0.8"/>
<polyline points="395.7,342.08 424.65,344.59 453.6,343.14 482.55,341.58 511.5,343.26 540.45,355.7" stroke="#ff4d60" stroke-opacity="0.3" stroke-width="0.8"/>
<polyline points="395.7,343.49 424.65,345.3 453.6,344.76 482.55,344.02 511.5,345.12 540.45,356.22" stroke="#ff4d60" stroke-opacity="0.3" stroke-width="0.8"/>
<polyline points="395.7,344.89 424.65,346.23 453.6,344.44 482.55,343.79 511.5,345.21 540.45,356.61" stroke="#ff4d60" stroke-opacity="0.3" stroke-width="0.8"/>
<polyline points="395.7,343.18 424.65,345.03 453.6,343.58 482.55,343.83 511.5,345.02 540.45,355.73" stroke="#ff4d60" stroke-opacity="0.3" stroke-width="0.8"/>
<polyline points="395.7,345.03 424.65,345.27 453.6,345.96 482.55,344.49 511.5,346.56 540.45,356.57" stroke="#ff4d60" stroke-opacity="0.3" stroke-width="0.8"/>
<polyline points="395.7,344.43 424.65,345.83 453.6,344.82 482.55,344.21 511.5,344.57 540.45,356.18" stroke="#ff4d60" stroke-opacity="0.3" stroke-width="0.8"/>
<polyline points="395.7,343.12 424.65,344.6 453.6,344.04 482.55,342.99 511.5,344.39 540.45,355.57" stroke="#ff4d60" stroke-opacity="0.3" stroke-width="0.8"/>
<polyline points="395.7,344.23 424.65,345.64 453.6,344.35 482.55,343.16 511.5,345.5 540.45,356.03" stroke="#ff4d60" stroke-opacity="0.3" stroke-width="0.8"/>
<polyline points="395.7,344.81 424.65,345.67 453.6,345.16 482.55,343.29 511.5,345.75 540.45,356.88" stroke="#ff4d60" stroke-opacity="0.3" stroke-width="0.8"/>
<polyline points="395.7,343.59 424.65,344.38 453.6,344.36 482.55,342.48 511.5,344.21 540.45,355.91" stroke="#ff4d60" stroke-opacity="0.3" stroke-width="0.8"/>
<polyline points="395.7,343.97 424.65,345.1 453.6,344.65 482.55,343.35 511.5,344.95 540.45,355.11" stroke="#ff4d60" stroke-opacity="0.3" stroke-width="0.8"/>
<polyline points="395.7,344.54 424.65,345.22 453.6,345.07 482.55,344.23 511.5,346 540.45,356.54" stroke="#ff4d60" stroke-opacity="0.3" stroke-width="0.8"/>
<polyline points="395.7,344.62 424.65,347.27 453.6,345.13 482.55,344.5 511.5,345.53 540.45,356.69" stroke="#ff4d60" stroke-opacity="0.3" stroke-width="0.8"/>
<polyline points="395.7,343.15 424.65,344.52 453.6,343.34 482.55,341.94 511.5,343.04 540.45,354.62" stroke="#ff1a2e" stroke-opacity="0.3" stroke-width="0.8"/>
<polyline points="395.7,342.19 424.65,343.77 453.6,342.7 482.55,341.54 511.5,343.06 540.45,354.27" stroke="#ff1a2e" stroke-opacity="0.3" stroke-width="0.8"/>
<polyline points="395.7,342.87 424.65,344.12 453.6,342.67 482.55,341.44 511.5,343.65 540.45,354.59" stroke="#ff1a2e" stroke-opacity="0.3" stroke-width="0.8"/>
<polyline points="395.7,342.45 424.65,344.01 453.6,343.11 482.55,341.71 511.5,343.36 540.45,355" stroke="#ff1a2e" stroke-opacity="0.3" stroke-width="0.8"/>
<polyline points="395.7,343.33 424.65,343.86 453.6,342.71 482.55,342.24 511.5,343.76 540.45,354.85" stroke="#ff1a2e" stroke-opacity="0.3" stroke-width="0.8"/>
<polyline points="395.7,342.46 424.65,343.66 453.6,342.59 482.55,341.31 511.5,342.93 540.45,354.36" stroke="#ff1a2e" stroke-opacity="0.3" stroke-width="0.8"/>
<polyline points="395.7,341.94 424.65,343.74 453.6,342.78 482.55,341.65 511.5,343.29 540.45,354.19" stroke="#ff1a2e" stroke-opacity="0.3" stroke-width="0.8"/>
<polyline points="395.7,342.49 424.65,343.93 453.6,343.22 482.55,341.71 511.5,343.74 540.45,354.9" stroke="#ff1a2e" stroke-opacity="0.3" stroke-width="0.8"/>
<polyline points="395.7,342.98 424.65,344.5 453.6,342.97 482.55,341.99 511.5,343.13 540.45,354.85" stroke="#ff1a2e" stroke-opacity="0.3" stroke-width="0.8"/>
<polyline points="395.7,343.12 424.65,344.29 453.6,343.11 482.55,342.22 511.5,343.18 540.45,355.16" stroke="#ff1a2e" stroke-opacity="0.3" stroke-width="0.8"/>
<polyline points="395.7,342.18 424.65,343.48 453.6,342.46 482.55,341.92 511.5,343.38 540.45,354.01" stroke="#ff1a2e" stroke-opacity="0.3" stroke-width="0.8"/>
<polyline points="395.7,343.1 424.65,343.9 453.6,342.65 482.55,341.85 511.5,343.28 540.45,354.85" stroke="#ff1a2e" stroke-opacity="0.3" stroke-width="0.8"/>
<polyline points="395.7,341.94 424.65,343.77 453.6,342.28 482.55,341.95 511.5,342.77 540.45,354.21" stroke="#ff1a2e" stroke-opacity="0.3" stroke-width="0.8"/>
<polyline points="395.7,342.22 424.65,343.92 453.6,342.8 482.55,341.73 511.5,343.05 540.45,353.84" stroke="#ff1a2e" stroke-opacity="0.3" stroke-width="0.8"/>
<polyline points="395.7,342.31 424.65,343.39 453.6,342.8 482.55,341.45 511.5,342.86 540.45,354.07" stroke="#ff1a2e" stroke-opacity="0.3" stroke-width="0.8"/>
<polyline points="395.7,342.2 424.65,343.6 453.6,342.28 482.55,340.97 511.5,341.89 540.45,353.98" stroke="#ff1a2e" stroke-opacity="0.3" stroke-width="0.8"/>
<polyline points="395.7,343.02 424.65,344.39 453.6,343.54 482.55,342.44 511.5,343.41 540.45,355.12" stroke="#ff1a2e" stroke-opacity="0.3" stroke-width="0.8"/>
<polyline points="395.7,342.39 424.65,343.9 453.6,342.62 482.55,341.98 511.5,343.57 540.45,354.42" stroke="#ff1a2e" stroke-opacity="0.3" stroke-width="0.8"/>
<polyline points="395.7,342.39 424.65,343.34 453.6,342.64 482.55,340.87 511.5,342.93 540.45,354.5" stroke="#ff1a2e" stroke-opacity="0.3" stroke-width="0.8"/>
<polyline points="395.7,343.09 424.65,344.43 453.6,343.31 482.55,342.63 511.5,344.04 540.45,355.08" stroke="#ff1a2e" stroke-opacity="0.3" stroke-width="0.8"/>
<polyline points="395.7,406.84 424.65,409.2 453.6,413.03 482.55,408.29 511.5,410.25 540.45,423.49" stroke="#9a6cf0" stroke-opacity="0.6" stroke-width="0.6"/>
<polyline points="395.7,407.42 424.65,410.76 453.6,408.21 482.55,405.94 511.5,408.62 540.45,421.64" stroke="#ff6b80" stroke-opacity="0.45" stroke-width="0.6"/>
<polyline points="395.7,407.37 424.65,410.38 453.6,408.75 482.55,406.28 511.5,409.3 540.45,421.48" stroke="#ff6b80" stroke-opacity="0.45" stroke-width="0.6"/>
<polyline points="395.7,408.09 424.65,410.51 453.6,408.71 482.55,406.45 511.5,408.79 540.45,421.87" stroke="#ff6b80" stroke-opacity="0.45" stroke-width="0.6"/>
<polyline points="395.7,407.47 424.65,410.78 453.6,408.52 482.55,406.04 511.5,408.8 540.45,421.53" stroke="#ff6b80" stroke-opacity="0.45" stroke-width="0.6"/>
<polyline points="395.7,407.41 424.65,409.09 453.6,409.56 482.55,406.73 511.5,408.01 540.45,421.3" stroke="#e25ee6" stroke-opacity="0.45" stroke-width="0.6"/>
<polyline points="395.7,406.74 424.65,408.51 453.6,408.96 482.55,406.47 511.5,407.45 540.45,420.97" stroke="#e25ee6" stroke-opacity="0.45" stroke-width="0.6"/>
<polyline points="395.7,402.39 424.65,403.5 453.6,402.82 482.55,401.09 511.5,403.21 540.45,415.81" stroke="#ff9aa8" stroke-opacity="0.4" stroke-width="0.7"/>
<polyline points="395.7,402.73 424.65,404.28 453.6,403.03 482.55,401.49 511.5,403.96 540.45,416.53" stroke="#ff9aa8" stroke-opacity="0.4" stroke-width="0.7"/>
<polyline points="395.7,402.34 424.65,404.23 453.6,403.27 482.55,400.88 511.5,403.87 540.45,416.66" stroke="#ff9aa8" stroke-opacity="0.4" stroke-width="0.7"/>
<polyline points="395.7,404.42 424.65,405.55 453.6,403.82 482.55,403.06 511.5,404.01 540.45,420.06" stroke="#ff4d60" stroke-opacity="0.3" stroke-width="0.8"/>
<polyline points="395.7,405.15 424.65,406.95 453.6,404.79 482.55,404.24 511.5,405.62 540.45,421.26" stroke="#ff4d60" stroke-opacity="0.3" stroke-width="0.8"/>
<polyline points="395.7,405.81 424.65,406.43 453.6,405.33 482.55,403.02 511.5,405.58 540.45,419.27" stroke="#ff4d60" stroke-opacity="0.3" stroke-width="0.8"/>
<polyline points="395.7,404.48 424.65,406.36 453.6,406.36 482.55,403.37 511.5,404.84 540.45,420.82" stroke="#ff4d60" stroke-opacity="0.3" stroke-width="0.8"/>
<polyline points="395.7,404.26 424.65,405.85 453.6,405.35 482.55,403.16 511.5,405.1 540.45,418.8" stroke="#ff4d60" stroke-opacity="0.3" stroke-width="0.8"/>
<polyline points="395.7,405.84 424.65,406.34 453.6,404.4 482.55,401.77 511.5,404.37 540.45,422.4" stroke="#ff4d60" stroke-opacity="0.3" stroke-width="0.8"/>
<polyline points="395.7,405.04 424.65,406.3 453.6,404.8 482.55,402.74 511.5,404.34 540.45,418.54" stroke="#ff4d60" stroke-opacity="0.3" stroke-width="0.8"/>
<polyline points="395.7,405.7 424.65,407.66 453.6,404.99 482.55,403.76 511.5,406.25 540.45,422.84" stroke="#ff4d60" stroke-opacity="0.3" stroke-width="0.8"/>
<polyline points="395.7,405.42 424.65,406.4 453.6,404.5 482.55,403.15 511.5,404.61 540.45,418.83" stroke="#ff4d60" stroke-opacity="0.3" stroke-width="0.8"/>
<polyline points="395.7,404.03 424.65,406.53 453.6,404.75 482.55,402.5 511.5,405.26 540.45,421.31" stroke="#ff4d60" stroke-opacity="0.3" stroke-width="0.8"/>
<polyline points="395.7,406.04 424.65,405.83 453.6,404.45 482.55,403.99 511.5,405.57 540.45,421.23" stroke="#ff4d60" stroke-opacity="0.3" stroke-width="0.8"/>
<polyline points="395.7,405.64 424.65,406.44 453.6,405.35 482.55,403.02 511.5,405.85 540.45,419.2" stroke="#ff4d60" stroke-opacity="0.3" stroke-width="0.8"/>
<polyline points="395.7,404.36 424.65,406.88 453.6,404.55 482.55,402.39 511.5,404.65 540.45,419.33" stroke="#ff4d60" stroke-opacity="0.3" stroke-width="0.8"/>
<polyline points="395.7,404.89 424.65,405.8 453.6,404.54 482.55,402.32 511.5,405.06 540.45,419.09" stroke="#ff4d60" stroke-opacity="0.3" stroke-width="0.8"/>
<polyline points="395.7,404.29 424.65,405.31 453.6,402.88 482.55,401.39 511.5,403.83 540.45,418.62" stroke="#ff1a2e" stroke-opacity="0.3" stroke-width="0.8"/>
<polyline points="395.7,403.63 424.65,404.73 453.6,402.92 482.55,401.35 511.5,403.49 540.45,417.57" stroke="#ff1a2e" stroke-opacity="0.3" stroke-width="0.8"/>
<polyline points="395.7,403.38 424.65,405.14 453.6,403.14 482.55,401.26 511.5,403.66 540.45,417.31" stroke="#ff1a2e" stroke-opacity="0.3" stroke-width="0.8"/>
<polyline points="395.7,404.13 424.65,404.76 453.6,403.34 482.55,401.22 511.5,403.2 540.45,416.25" stroke="#ff1a2e" stroke-opacity="0.3" stroke-width="0.8"/>
<polyline points="395.7,404.45 424.65,405.38 453.6,403.74 482.55,401.68 511.5,404.15 540.45,418.86" stroke="#ff1a2e" stroke-opacity="0.3" stroke-width="0.8"/>
<polyline points="395.7,404.62 424.65,405.25 453.6,403.91 482.55,401.99 511.5,404.47 540.45,418.84" stroke="#ff1a2e" stroke-opacity="0.3" stroke-width="0.8"/>
<polyline points="395.7,404.27 424.65,405.2 453.6,403.25 482.55,401.52 511.5,403.87 540.45,419.24" stroke="#ff1a2e" stroke-opacity="0.3" stroke-width="0.8"/>
<polyline points="395.7,404.22 424.65,404.85 453.6,403.52 482.55,401.53 511.5,403.86 540.45,417.58" stroke="#ff1a2e" stroke-opacity="0.3" stroke-width="0.8"/>
<polyline points="395.7,403.78 424.65,404.62 453.6,403.48 482.55,400.93 511.5,403.4 540.45,417.44" stroke="#ff1a2e" stroke-opacity="0.3" stroke-width="0.8"/>
<polyline points="395.7,404.28 424.65,405.14 453.6,403.28 482.55,401.91 511.5,404.28 540.45,419.3" stroke="#ff1a2e" stroke-opacity="0.3" stroke-width="0.8"/>
<polyline points="395.7,404.12 424.65,404.89 453.6,403.55 482.55,401.06 511.5,404.05 540.45,418.52" stroke="#ff1a2e" stroke-opacity="0.3" stroke-width="0.8"/>
<polyline points="395.7,404.32 424.65,405.83 453.6,403.57 482.55,401.66 511.5,404.02 540.45,419.8" stroke="#ff1a2e" stroke-opacity="0.3" stroke-width="0.8"/>
<polyline points="395.7,404.46 424.65,405.42 453.6,403.73 482.55,402.54 511.5,404.66 540.45,418.77" stroke="#ff1a2e" stroke-opacity="0.3" stroke-width="0.8"/>
<polyline points="395.7,403.58 424.65,405.05 453.6,403.42 482.55,400.98 511.5,403.38 540.45,416.39" stroke="#ff1a2e" stroke-opacity="0.3" stroke-width="0.8"/>
<polyline points="395.7,403.96 424.65,404.46 453.6,403.19 482.55,400.6 511.5,403.21 540.45,416.88" stroke="#ff1a2e" stroke-opacity="0.3" stroke-width="0.8"/>
<polyline points="395.7,404.2 424.65,405.01 453.6,402.92 482.55,401.46 511.5,404.02 540.45,416.13" stroke="#ff1a2e" stroke-opacity="0.3" stroke-width="0.8"/></g>
<g><path d="M63.7 317.5H195.1" stroke="#9a9a9a" stroke-width="0.6" fill="none"/>
<path d="M63.7 317.5v1.8" stroke="#9a9a9a" stroke-width="0.5" fill="none"/>
<path d="M107.5 317.5v1.8" stroke="#9a9a9a" stroke-width="0.5" fill="none"/>
<path d="M151.3 317.5v1.8" stroke="#9a9a9a" stroke-width="0.5" fill="none"/>
<path d="M195.1 317.5v1.8" stroke="#9a9a9a" stroke-width="0.5" fill="none"/>
<path d="M58.2 294.5V312.7" stroke="#9a9a9a" stroke-width="0.5" fill="none"/>
<path d="M58.2 294.5h-1.5" stroke="#9a9a9a" stroke-width="0.4" fill="none"/>
<path d="M58.2 303.6h-1.5" stroke="#9a9a9a" stroke-width="0.4" fill="none"/>
<path d="M58.2 312.7h-1.5" stroke="#9a9a9a" stroke-width="0.4" fill="none"/>
<path d="M63.7 371.6H195.1" stroke="#9a9a9a" stroke-width="0.6" fill="none"/>
<path d="M63.7 371.6v1.8" stroke="#9a9a9a" stroke-width="0.5" fill="none"/>
<path d="M107.5 371.6v1.8" stroke="#9a9a9a" stroke-width="0.5" fill="none"/>
<path d="M151.3 371.6v1.8" stroke="#9a9a9a" stroke-width="0.5" fill="none"/>
<path d="M195.1 371.6v1.8" stroke="#9a9a9a" stroke-width="0.5" fill="none"/>
<path d="M58 351.7V370.6" stroke="#9a9a9a" stroke-width="0.5" fill="none"/>
<path d="M58 351.7h-1.5" stroke="#9a9a9a" stroke-width="0.4" fill="none"/>
<path d="M58 361.2h-1.5" stroke="#9a9a9a" stroke-width="0.4" fill="none"/>
<path d="M58 370.6h-1.5" stroke="#9a9a9a" stroke-width="0.4" fill="none"/>
<path d="M63.7 425.5H195.1" stroke="#9a9a9a" stroke-width="0.6" fill="none"/>
<path d="M63.7 425.5v1.8" stroke="#9a9a9a" stroke-width="0.5" fill="none"/>
<path d="M107.5 425.5v1.8" stroke="#9a9a9a" stroke-width="0.5" fill="none"/>
<path d="M151.3 425.5v1.8" stroke="#9a9a9a" stroke-width="0.5" fill="none"/>
<path d="M195.1 425.5v1.8" stroke="#9a9a9a" stroke-width="0.5" fill="none"/>
<path d="M58 404.5V424.2" stroke="#9a9a9a" stroke-width="0.5" fill="none"/>
<path d="M58 404.5h-1.5" stroke="#9a9a9a" stroke-width="0.4" fill="none"/>
<path d="M58 414.4h-1.5" stroke="#9a9a9a" stroke-width="0.4" fill="none"/>
<path d="M58 424.2h-1.5" stroke="#9a9a9a" stroke-width="0.4" fill="none"/>
<path d="M227.2 316H361.6" stroke="#9a9a9a" stroke-width="0.6" fill="none"/>
<path d="M227.2 316v1.8" stroke="#9a9a9a" stroke-width="0.5" fill="none"/>
<path d="M260.8 316v1.8" stroke="#9a9a9a" stroke-width="0.5" fill="none"/>
<path d="M294.4 316v1.8" stroke="#9a9a9a" stroke-width="0.5" fill="none"/>
<path d="M328 316v1.8" stroke="#9a9a9a" stroke-width="0.5" fill="none"/>
<path d="M361.6 316v1.8" stroke="#9a9a9a" stroke-width="0.5" fill="none"/>
<path d="M221 292.4V310.5" stroke="#9a9a9a" stroke-width="0.5" fill="none"/>
<path d="M221 292.4h-1.5" stroke="#9a9a9a" stroke-width="0.4" fill="none"/>
<path d="M221 301.5h-1.5" stroke="#9a9a9a" stroke-width="0.4" fill="none"/>
<path d="M221 310.5h-1.5" stroke="#9a9a9a" stroke-width="0.4" fill="none"/>
<path d="M227.2 371.5H361.6" stroke="#9a9a9a" stroke-width="0.6" fill="none"/>
<path d="M227.2 371.5v1.8" stroke="#9a9a9a" stroke-width="0.5" fill="none"/>
<path d="M260.8 371.5v1.8" stroke="#9a9a9a" stroke-width="0.5" fill="none"/>
<path d="M294.4 371.5v1.8" stroke="#9a9a9a" stroke-width="0.5" fill="none"/>
<path d="M328 371.5v1.8" stroke="#9a9a9a" stroke-width="0.5" fill="none"/>
<path d="M361.6 371.5v1.8" stroke="#9a9a9a" stroke-width="0.5" fill="none"/>
<path d="M221 349.7V370" stroke="#9a9a9a" stroke-width="0.5" fill="none"/>
<path d="M221 349.7h-1.5" stroke="#9a9a9a" stroke-width="0.4" fill="none"/>
<path d="M221 359.9h-1.5" stroke="#9a9a9a" stroke-width="0.4" fill="none"/>
<path d="M221 370h-1.5" stroke="#9a9a9a" stroke-width="0.4" fill="none"/>
<path d="M227.2 426.6H361.6" stroke="#9a9a9a" stroke-width="0.6" fill="none"/>
<path d="M227.2 426.6v1.8" stroke="#9a9a9a" stroke-width="0.5" fill="none"/>
<path d="M260.8 426.6v1.8" stroke="#9a9a9a" stroke-width="0.5" fill="none"/>
<path d="M294.4 426.6v1.8" stroke="#9a9a9a" stroke-width="0.5" fill="none"/>
<path d="M328 426.6v1.8" stroke="#9a9a9a" stroke-width="0.5" fill="none"/>
<path d="M361.6 426.6v1.8" stroke="#9a9a9a" stroke-width="0.5" fill="none"/>
<path d="M221.2 406.3V424.5" stroke="#9a9a9a" stroke-width="0.5" fill="none"/>
<path d="M221.2 406.3h-1.5" stroke="#9a9a9a" stroke-width="0.4" fill="none"/>
<path d="M221.2 414.4h-1.5" stroke="#9a9a9a" stroke-width="0.4" fill="none"/>
<path d="M221.2 423h-1.5" stroke="#9a9a9a" stroke-width="0.4" fill="none"/>
<path d="M395.7 307.6H540.45" stroke="#9a9a9a" stroke-width="0.6" fill="none"/>
<path d="M395.7 307.6v1.8" stroke="#9a9a9a" stroke-width="0.5" fill="none"/>
<path d="M424.65 307.6v1.8" stroke="#9a9a9a" stroke-width="0.5" fill="none"/>
<path d="M453.6 307.6v1.8" stroke="#9a9a9a" stroke-width="0.5" fill="none"/>
<path d="M482.55 307.6v1.8" stroke="#9a9a9a" stroke-width="0.5" fill="none"/>
<path d="M511.5 307.6v1.8" stroke="#9a9a9a" stroke-width="0.5" fill="none"/>
<path d="M540.45 307.6v1.8" stroke="#9a9a9a" stroke-width="0.5" fill="none"/>
<path d="M389.8 283.4V306.9" stroke="#9a9a9a" stroke-width="0.5" fill="none"/>
<path d="M389.8 283.4h-1.5" stroke="#9a9a9a" stroke-width="0.4" fill="none"/>
<path d="M389.8 289.3h-1.5" stroke="#9a9a9a" stroke-width="0.4" fill="none"/>
<path d="M389.8 295.2h-1.5" stroke="#9a9a9a" stroke-width="0.4" fill="none"/>
<path d="M389.8 301h-1.5" stroke="#9a9a9a" stroke-width="0.4" fill="none"/>
<path d="M389.8 306.9h-1.5" stroke="#9a9a9a" stroke-width="0.4" fill="none"/>
<path d="M395.7 366.6H540.45" stroke="#9a9a9a" stroke-width="0.6" fill="none"/>
<path d="M395.7 366.6v1.8" stroke="#9a9a9a" stroke-width="0.5" fill="none"/>
<path d="M424.65 366.6v1.8" stroke="#9a9a9a" stroke-width="0.5" fill="none"/>
<path d="M453.6 366.6v1.8" stroke="#9a9a9a" stroke-width="0.5" fill="none"/>
<path d="M482.55 366.6v1.8" stroke="#9a9a9a" stroke-width="0.5" fill="none"/>
<path d="M511.5 366.6v1.8" stroke="#9a9a9a" stroke-width="0.5" fill="none"/>
<path d="M540.45 366.6v1.8" stroke="#9a9a9a" stroke-width="0.5" fill="none"/>
<path d="M389.5 342.3V364.8" stroke="#9a9a9a" stroke-width="0.5" fill="none"/>
<path d="M389.5 342.3h-1.5" stroke="#9a9a9a" stroke-width="0.4" fill="none"/>
<path d="M389.5 347.9h-1.5" stroke="#9a9a9a" stroke-width="0.4" fill="none"/>
<path d="M389.5 353.5h-1.5" stroke="#9a9a9a" stroke-width="0.4" fill="none"/>
<path d="M389.5 359.2h-1.5" stroke="#9a9a9a" stroke-width="0.4" fill="none"/>
<path d="M389.5 364.8h-1.5" stroke="#9a9a9a" stroke-width="0.4" fill="none"/>
<path d="M395.7 426.7H540.45" stroke="#9a9a9a" stroke-width="0.6" fill="none"/>
<path d="M395.7 426.7v1.8" stroke="#9a9a9a" stroke-width="0.5" fill="none"/>
<path d="M424.65 426.7v1.8" stroke="#9a9a9a" stroke-width="0.5" fill="none"/>
<path d="M453.6 426.7v1.8" stroke="#9a9a9a" stroke-width="0.5" fill="none"/>
<path d="M482.55 426.7v1.8" stroke="#9a9a9a" stroke-width="0.5" fill="none"/>
<path d="M511.5 426.7v1.8" stroke="#9a9a9a" stroke-width="0.5" fill="none"/>
<path d="M540.45 426.7v1.8" stroke="#9a9a9a" stroke-width="0.5" fill="none"/>
<path d="M389.1 403V423.5" stroke="#9a9a9a" stroke-width="0.5" fill="none"/>
<path d="M389.1 403h-1.5" stroke="#9a9a9a" stroke-width="0.4" fill="none"/>
<path d="M389.1 409.4h-1.5" stroke="#9a9a9a" stroke-width="0.4" fill="none"/>
<path d="M389.1 415.8h-1.5" stroke="#9a9a9a" stroke-width="0.4" fill="none"/>
<path d="M389.1 422.8h-1.5" stroke="#9a9a9a" stroke-width="0.4" fill="none"/></g>
<g font-family="Liberation Sans, Arial, sans-serif" fill="#666"><text x="129.4" y="288.6" text-anchor="middle" font-size="3.6" fill="#222">Cluster 1</text>
<text transform="translate(47.89 305) rotate(-90)" text-anchor="middle" font-size="2.47" fill="#222" stroke="#222" stroke-width="0.12">Expression changes</text>
<text transform="translate(54.8 294.5) rotate(-90)" text-anchor="middle" font-size="2.9">0.8</text>
<text transform="translate(54.8 303.6) rotate(-90)" text-anchor="middle" font-size="2.9">0.5</text>
<text transform="translate(54.8 312.7) rotate(-90)" text-anchor="middle" font-size="2.9">0.0</text>
<text x="63.7" y="324.04" text-anchor="middle" font-size="2.9">0_min</text>
<text x="107.5" y="324.04" text-anchor="middle" font-size="2.9">30_min</text>
<text x="151.3" y="324.04" text-anchor="middle" font-size="2.9">1_hour</text>
<text x="195.1" y="324.04" text-anchor="middle" font-size="2.9">6_hour</text>
<text x="129.4" y="331.01" text-anchor="middle" font-size="2.8">Time</text>
<text x="129.4" y="342.9" text-anchor="middle" font-size="3.6" fill="#222">Cluster 2</text>
<text transform="translate(47.89 359.2) rotate(-90)" text-anchor="middle" font-size="2.47" fill="#222" stroke="#222" stroke-width="0.12">Expression changes</text>
<text transform="translate(54.6 351.7) rotate(-90)" text-anchor="middle" font-size="2.9">1.0</text>
<text transform="translate(54.6 361.2) rotate(-90)" text-anchor="middle" font-size="2.9">0.5</text>
<text transform="translate(54.6 370.6) rotate(-90)" text-anchor="middle" font-size="2.9">0.0</text>
<text x="63.7" y="377.54" text-anchor="middle" font-size="2.9">0_min</text>
<text x="107.5" y="377.54" text-anchor="middle" font-size="2.9">30_min</text>
<text x="151.3" y="377.54" text-anchor="middle" font-size="2.9">1_hour</text>
<text x="195.1" y="377.54" text-anchor="middle" font-size="2.9">6_hour</text>
<text x="129.4" y="384.91" text-anchor="middle" font-size="2.8">Time</text>
<text x="129.4" y="395.9" text-anchor="middle" font-size="3.6" fill="#222">Cluster 3</text>
<text transform="translate(47.89 413.5) rotate(-90)" text-anchor="middle" font-size="2.47" fill="#222" stroke="#222" stroke-width="0.12">Expression changes</text>
<text transform="translate(54.6 404.5) rotate(-90)" text-anchor="middle" font-size="2.9">2.0</text>
<text transform="translate(54.6 414.4) rotate(-90)" text-anchor="middle" font-size="2.9">1.0</text>
<text transform="translate(54.6 424.2) rotate(-90)" text-anchor="middle" font-size="2.9">0.0</text>
<text x="63.7" y="431.94" text-anchor="middle" font-size="2.9">0_min</text>
<text x="107.5" y="431.94" text-anchor="middle" font-size="2.9">30_min</text>
<text x="151.3" y="431.94" text-anchor="middle" font-size="2.9">1_hour</text>
<text x="195.1" y="431.94" text-anchor="middle" font-size="2.9">6_hour</text>
<text x="129.4" y="439.71" text-anchor="middle" font-size="2.8">Time</text>
<text x="294.4" y="285.9" text-anchor="middle" font-size="3.6" fill="#222">Cluster 1</text>
<text transform="translate(210.99 303.2) rotate(-90)" text-anchor="middle" font-size="2.47" fill="#222" stroke="#222" stroke-width="0.12">Expression changes</text>
<text transform="translate(217.6 292.4) rotate(-90)" text-anchor="middle" font-size="2.9">1.5</text>
<text transform="translate(217.6 301.5) rotate(-90)" text-anchor="middle" font-size="2.9">1.0</text>
<text transform="translate(217.6 310.5) rotate(-90)" text-anchor="middle" font-size="2.9">0.5</text>
<text x="227.2" y="322.04" text-anchor="middle" font-size="2.9">0_min</text>
<text x="260.8" y="322.04" text-anchor="middle" font-size="2.9">30_min</text>
<text x="294.4" y="322.04" text-anchor="middle" font-size="2.9">1_hour</text>
<text x="328" y="322.04" text-anchor="middle" font-size="2.9">6_hour</text>
<text x="361.6" y="322.04" text-anchor="middle" font-size="2.9">12_hour</text>
<text x="294.4" y="328.71" text-anchor="middle" font-size="2.8">Time</text>
<text x="294.4" y="341.1" text-anchor="middle" font-size="3.6" fill="#222">Cluster 2</text>
<text transform="translate(210.99 359.4) rotate(-90)" text-anchor="middle" font-size="2.47" fill="#222" stroke="#222" stroke-width="0.12">Expression changes</text>
<text transform="translate(217.6 349.7) rotate(-90)" text-anchor="middle" font-size="2.9">1.0</text>
<text transform="translate(217.6 359.9) rotate(-90)" text-anchor="middle" font-size="2.9">0.5</text>
<text transform="translate(217.6 370) rotate(-90)" text-anchor="middle" font-size="2.9">0.0</text>
<text x="227.2" y="377.44" text-anchor="middle" font-size="2.9">0_min</text>
<text x="260.8" y="377.44" text-anchor="middle" font-size="2.9">30_min</text>
<text x="294.4" y="377.44" text-anchor="middle" font-size="2.9">1_hour</text>
<text x="328" y="377.44" text-anchor="middle" font-size="2.9">6_hour</text>
<text x="361.6" y="377.44" text-anchor="middle" font-size="2.9">12_hour</text>
<text x="294.4" y="384.21" text-anchor="middle" font-size="2.8">Time</text>
<text x="294.4" y="396.2" text-anchor="middle" font-size="3.6" fill="#222">Cluster 3</text>
<text transform="translate(210.99 414.4) rotate(-90)" text-anchor="middle" font-size="2.47" fill="#222" stroke="#222" stroke-width="0.12">Expression changes</text>
<text transform="translate(217.8 406.3) rotate(-90)" text-anchor="middle" font-size="2.9">2.0</text>
<text transform="translate(217.8 414.4) rotate(-90)" text-anchor="middle" font-size="2.9">1.0</text>
<text transform="translate(217.8 423) rotate(-90)" text-anchor="middle" font-size="2.9">0.0</text>
<text x="227.2" y="432.74" text-anchor="middle" font-size="2.9">0_min</text>
<text x="260.8" y="432.74" text-anchor="middle" font-size="2.9">30_min</text>
<text x="294.4" y="432.74" text-anchor="middle" font-size="2.9">1_hour</text>
<text x="328" y="432.74" text-anchor="middle" font-size="2.9">6_hour</text>
<text x="361.6" y="432.74" text-anchor="middle" font-size="2.9">12_hour</text>
<text x="294.4" y="439.91" text-anchor="middle" font-size="2.8">Time</text>
<text x="468.08" y="274.88" text-anchor="middle" font-size="4.1" fill="#222">Cluster 1</text>
<text transform="translate(378.82 293.5) rotate(-90)" text-anchor="middle" font-size="2.83" fill="#222" stroke="#222" stroke-width="0.12">Expression changes</text>
<text transform="translate(386.4 283.4) rotate(-90)" text-anchor="middle" font-size="3.1">1</text>
<text transform="translate(386.4 289.3) rotate(-90)" text-anchor="middle" font-size="3.1">0</text>
<text transform="translate(386.4 295.2) rotate(-90)" text-anchor="middle" font-size="3.1">-1</text>
<text transform="translate(386.4 301) rotate(-90)" text-anchor="middle" font-size="3.1">-2</text>
<text transform="translate(386.4 306.9) rotate(-90)" text-anchor="middle" font-size="3.1">-3</text>
<text x="395.7" y="314.32" text-anchor="middle" font-size="3.1">0_min</text>
<text x="424.65" y="314.32" text-anchor="middle" font-size="3.1">30_min</text>
<text x="453.6" y="314.32" text-anchor="middle" font-size="3.1">1_hour</text>
<text x="482.55" y="314.32" text-anchor="middle" font-size="3.1">6_hour</text>
<text x="511.5" y="314.32" text-anchor="middle" font-size="3.1">12_hour</text>
<text x="540.45" y="314.32" text-anchor="middle" font-size="3.1">24_hour</text>
<text x="468.08" y="321.48" text-anchor="middle" font-size="3.0">Time</text>
<text x="468.08" y="334.18" text-anchor="middle" font-size="4.1" fill="#222">Cluster 2</text>
<text transform="translate(378.82 353.5) rotate(-90)" text-anchor="middle" font-size="2.83" fill="#222" stroke="#222" stroke-width="0.12">Expression changes</text>
<text transform="translate(386.1 342.3) rotate(-90)" text-anchor="middle" font-size="3.1">1</text>
<text transform="translate(386.1 347.9) rotate(-90)" text-anchor="middle" font-size="3.1">0</text>
<text transform="translate(386.1 353.5) rotate(-90)" text-anchor="middle" font-size="3.1">-1</text>
<text transform="translate(386.1 359.2) rotate(-90)" text-anchor="middle" font-size="3.1">-2</text>
<text transform="translate(386.1 364.8) rotate(-90)" text-anchor="middle" font-size="3.1">-3</text>
<text x="395.7" y="373.92" text-anchor="middle" font-size="3.1">0_min</text>
<text x="424.65" y="373.92" text-anchor="middle" font-size="3.1">30_min</text>
<text x="453.6" y="373.92" text-anchor="middle" font-size="3.1">1_hour</text>
<text x="482.55" y="373.92" text-anchor="middle" font-size="3.1">6_hour</text>
<text x="511.5" y="373.92" text-anchor="middle" font-size="3.1">12_hour</text>
<text x="540.45" y="373.92" text-anchor="middle" font-size="3.1">24_hour</text>
<text x="468.08" y="380.68" text-anchor="middle" font-size="3.0">Time</text>
<text x="468.08" y="393.58" text-anchor="middle" font-size="4.1" fill="#222">Cluster 3</text>
<text transform="translate(378.82 412.5) rotate(-90)" text-anchor="middle" font-size="2.83" fill="#222" stroke="#222" stroke-width="0.12">Expression changes</text>
<text transform="translate(385.7 403) rotate(-90)" text-anchor="middle" font-size="3.1">1</text>
<text transform="translate(385.7 409.4) rotate(-90)" text-anchor="middle" font-size="3.1">0</text>
<text transform="translate(385.7 415.8) rotate(-90)" text-anchor="middle" font-size="3.1">-1</text>
<text transform="translate(385.7 422.8) rotate(-90)" text-anchor="middle" font-size="3.1">-2</text>
<text x="395.7" y="432.92" text-anchor="middle" font-size="3.1">0_min</text>
<text x="424.65" y="432.92" text-anchor="middle" font-size="3.1">30_min</text>
<text x="453.6" y="432.92" text-anchor="middle" font-size="3.1">1_hour</text>
<text x="482.55" y="432.92" text-anchor="middle" font-size="3.1">6_hour</text>
<text x="511.5" y="432.92" text-anchor="middle" font-size="3.1">12_hour</text>
<text x="540.45" y="432.92" text-anchor="middle" font-size="3.1">24_hour</text>
<text x="468.08" y="440.58" text-anchor="middle" font-size="3.0">Time</text></g>

</svg>
<div class="lbl" style="left:7.2px;top:31.6px;font-size:23.2px;transform:scaleX(0.876);transform-origin:0 0;-webkit-text-stroke:0.45px #000;">A</div>
<div class="lbl" style="left:5.4px;top:265.0px;font-size:22.4px;font-weight:bold;transform:scaleX(0.81);transform-origin:0 0;">B</div>
<div class="lbl" style="left:105.8px;top:452px;font-size:12.8px;-webkit-text-stroke:0.3px #000;">6 h</div>
<div class="lbl" style="left:270.8px;top:451.8px;font-size:12.8px;-webkit-text-stroke:0.3px #000;">12 h</div>
<div class="lbl" style="left:442.9px;top:452px;font-size:12.8px;-webkit-text-stroke:0.3px #000;">24 h</div>
</body></html>
